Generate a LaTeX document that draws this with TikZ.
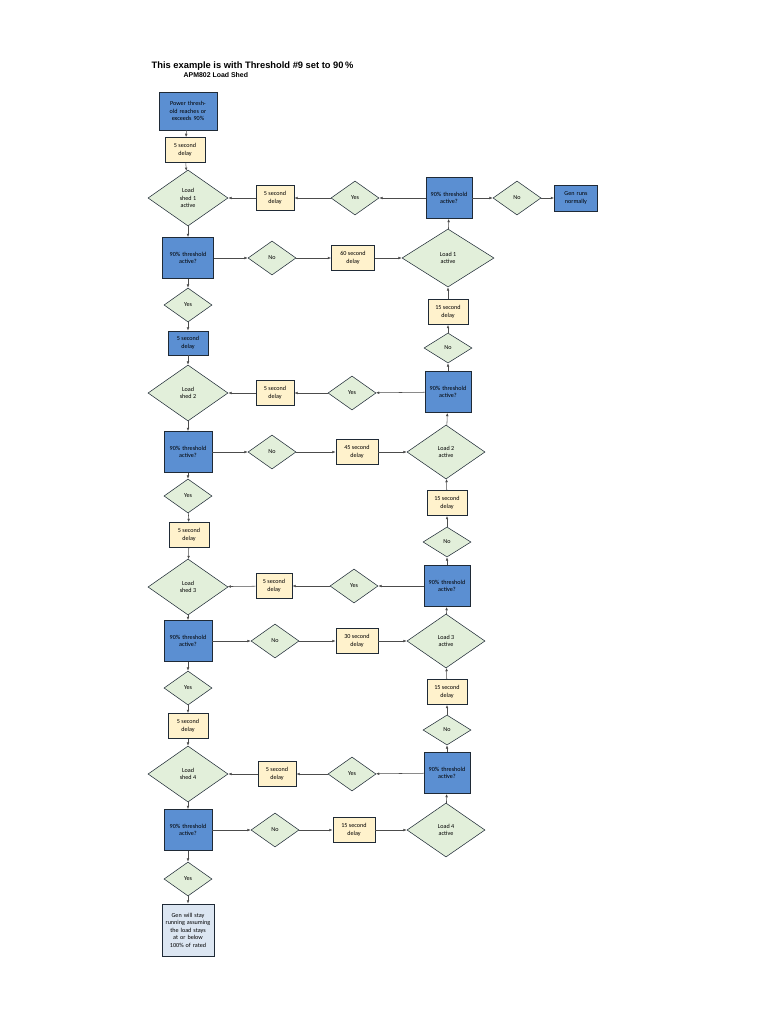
\documentclass[tikz,border=0pt]{standalone}
\usepackage{fontspec}
\setmainfont{Carlito}
\newfontfamily\titlefont{Liberation Sans}
\usetikzlibrary{shapes.geometric,arrows.meta}
\definecolor{bbl}{HTML}{5B8FD2}
\definecolor{byl}{HTML}{FFF2CC}
\definecolor{bgr}{HTML}{E2EFDA}
\definecolor{blt}{HTML}{DCE6F2}
\definecolor{bdr}{HTML}{1F2A36}
\tikzset{
 base/.style={draw=bdr,line width=0.6pt,align=center,font=\fontsize{4.6}{5.6}\selectfont,inner sep=1pt},
 bluebox/.style={base,fill=bbl,minimum width=48*0.75pt,minimum height=41*0.75pt,text width=40*0.75pt},
 delaybox/.style={base,fill=byl,minimum width=40*0.75pt,minimum height=25*0.75pt},
 dia/.style={base,diamond,fill=bgr,line width=0.4pt,aspect=1.4,inner sep=0pt,minimum width=48*0.75pt,minimum height=34*0.75pt},
 bigdia/.style={dia,minimum width=80*0.75pt,minimum height=56*0.75pt,aspect=1.45},
 arr/.style={draw=black!70,line width=0.4pt,-{Latex[length=2.5pt,width=2pt]}}
}
\begin{document}
\begin{tikzpicture}[x=0.75pt,y=-0.75pt]
\useasboundingbox (0,0) rectangle (768,1024);
\node[font=\titlefont\bfseries\fontsize{7}{8}\selectfont,anchor=west] (t1) at (147,66) {This example is with Threshold \#9 set to 90\,\%};
\node[font=\titlefont\bfseries\fontsize{5.2}{6}\selectfont,anchor=west] (t2) at (179,75.5) {APM802 Load Shed};
% stage 1
\node[bluebox,minimum width=58*0.75pt,minimum height=38*0.75pt,text width=52*0.75pt] (pw) at (188,111) {Power threshold reaches or exceeds 90\%};
\node[delaybox] (d0) at (185,150) {5 second\\delay};
\node[bigdia] (ls1) at (188,198) {Load\\shed 1\\active};
\node[bluebox,minimum width=51*0.75pt] (t1a) at (188,258) {90\% threshold active?};
\node[dia] (n1) at (272,258) {No};
\node[delaybox,minimum width=43*0.75pt] (d60) at (353,258) {60 second\\delay};
\node[bigdia,minimum width=92*0.75pt,minimum height=58*0.75pt] (la1) at (448,258) {Load 1\\active};
\node[bluebox,minimum width=46*0.75pt] (r1) at (449,198) {90\% threshold active?};
\node[dia] (rn1) at (517,198) {No};
\node[bluebox,minimum width=43*0.75pt,minimum height=26*0.75pt] (gen) at (576,198) {Gen runs\\normally};
\node[dia] (y1) at (355,198) {Yes};
\node[delaybox,minimum width=38*0.75pt] (dl1) at (275,198) {5 second\\delay};
% stage 2
\node[dia] (yl1) at (188,305) {Yes};
\node[base,fill=bbl,minimum width=40*0.75pt,minimum height=24*0.75pt] (d1) at (188,343) {5 second\\delay};
\node[bigdia] (ls2) at (188,393) {Load\\shed 2};
\node[bluebox] (t2a) at (188,452) {90\% threshold active?};
\node[dia] (n2) at (272,452) {No};
\node[delaybox,minimum width=42*0.75pt] (d45) at (357,452) {45 second\\delay};
\node[bigdia,minimum width=78*0.75pt,minimum height=54*0.75pt] (la2) at (446,452) {Load 2\\active};
\node[bluebox,minimum width=46*0.75pt] (r2) at (448,392) {90\% threshold active?};
\node[dia,minimum height=30*0.75pt] (rn2) at (448,348) {No};
\node[delaybox] (d15a) at (448,312) {15 second\\delay};
\node[dia] (y2) at (352,393) {Yes};
\node[delaybox,minimum width=38*0.75pt] (dl2) at (275,393) {5 second\\delay};
% stage 3
\node[dia] (yl2) at (188,496) {Yes};
\node[delaybox] (d2) at (189,535) {5 second\\delay};
\node[bigdia] (ls3) at (188,587) {Load\\shed 3};
\node[bluebox] (t3a) at (188,641) {90\% threshold active?};
\node[dia] (n3) at (275,641) {No};
\node[delaybox,minimum width=42*0.75pt] (d30) at (357,641) {30 second\\delay};
\node[bigdia,minimum width=78*0.75pt,minimum height=54*0.75pt] (la3) at (446,641) {Load 3\\active};
\node[bluebox,minimum width=46*0.75pt] (r3) at (447,586) {90\% threshold active?};
\node[dia,minimum height=30*0.75pt] (rn3) at (447,542) {No};
\node[delaybox] (d15b) at (447,503) {15 second\\delay};
\node[dia] (y3) at (354,586) {Yes};
\node[delaybox,minimum width=36*0.75pt] (dl3) at (274,586) {5 second\\delay};
% stage 4
\node[dia] (yl3) at (188,688) {Yes};
\node[delaybox] (d3) at (188,726) {5 second\\delay};
\node[bigdia] (ls4) at (188,774) {Load\\shed 4};
\node[bluebox] (t4a) at (188,830) {90\% threshold active?};
\node[dia] (n4) at (275,830) {No};
\node[delaybox,minimum width=42*0.75pt] (d15d) at (354,830) {15 second\\delay};
\node[bigdia,minimum width=78*0.75pt,minimum height=54*0.75pt] (la4) at (446,830) {Load 4\\active};
\node[bluebox,minimum width=46*0.75pt] (r4) at (447,773) {90\% threshold active?};
\node[dia,minimum height=30*0.75pt] (rn4) at (447,730) {No};
\node[delaybox] (d15c) at (447,692) {15 second\\delay};
\node[dia] (y4) at (352,774) {Yes};
\node[delaybox,minimum width=38*0.75pt] (dl4) at (277,774) {5 second\\delay};
\node[dia] (yl4) at (188,879) {Yes};
\node[base,fill=blt,minimum width=52*0.75pt,minimum height=52*0.75pt,text width=48*0.75pt] (fin) at (188,930) {Gen will stay running assuming the load stays at or below 100\% of rated};
% arrows left column
\foreach \a/\b in {pw/d0,d0/ls1,ls1/t1a,t1a/yl1,yl1/d1,d1/ls2,ls2/t2a,t2a/yl2,yl2/d2,d2/ls3,ls3/t3a,t3a/yl3,yl3/d3,d3/ls4,ls4/t4a,t4a/yl4,yl4/fin}
  \draw[arr] (\a) -- (\b);
% horizontal
\foreach \a/\b in {t1a/n1,n1/d60,d60/la1,t2a/n2,n2/d45,d45/la2,t3a/n3,n3/d30,d30/la3,t4a/n4,n4/d15d,d15d/la4,r1/rn1,rn1/gen,
  r1/y1,y1/dl1,dl1/ls1,r2/y2,y2/dl2,dl2/ls2,r3/y3,y3/dl3,dl3/ls3,r4/y4,y4/dl4,dl4/ls4}
  \draw[arr] (\a) -- (\b);
% right column upward
\foreach \a/\b in {la4/r4,r4/rn4,rn4/d15c,d15c/la3,la3/r3,r3/rn3,rn3/d15b,d15b/la2,la2/r2,r2/rn2,rn2/d15a,d15a/la1,la1/r1}
  \draw[arr] (\a) -- (\b);
\end{tikzpicture}
\end{document}
